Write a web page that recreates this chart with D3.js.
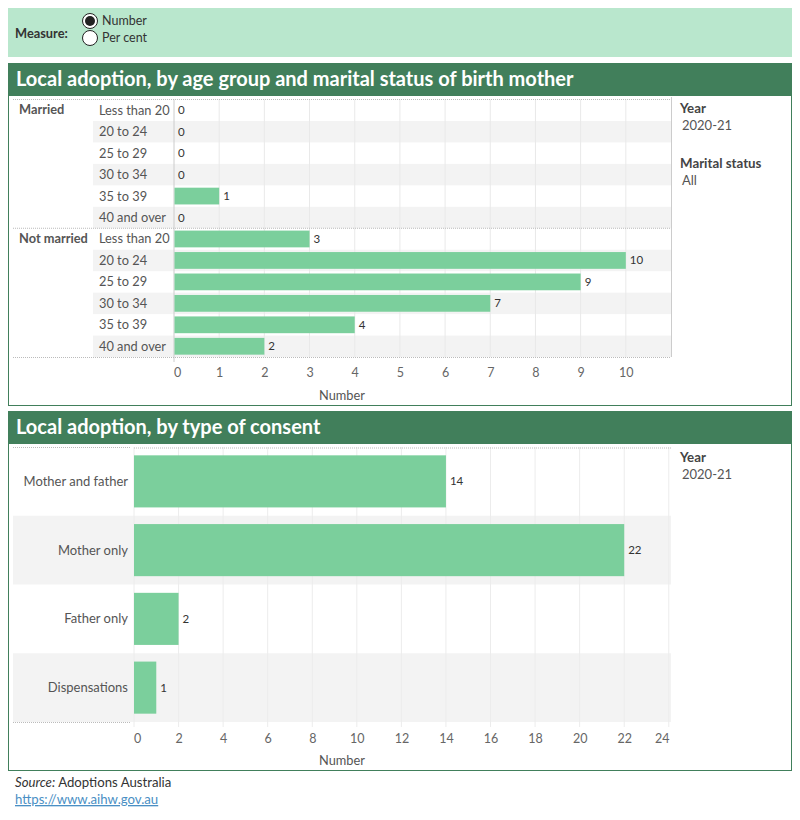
<!DOCTYPE html>
<html>
<head>
<meta charset="utf-8">
<script src="https://cdn.jsdelivr.net/npm/d3@7"></script>
<style>
  body { margin: 0; background: #fff; }
  svg { display: block; font-family: "Lato", "Open Sans", sans-serif; }
</style>
</head>
<body>
<svg id="chart" width="800" height="820"></svg>
<script>
// data
const maritalGroups = ["Married", "Not married"];
const ageGroups = ["Less than 20", "20 to 24", "25 to 29", "30 to 34", "35 to 39", "40 and over"];
const marriedValues = [0, 0, 0, 0, 1, 0];
const notMarriedValues = [3, 10, 9, 7, 4, 2];
const ageTicks = [0, 1, 2, 3, 4, 5, 6, 7, 8, 9, 10];

const consentTypes = ["Mother and father", "Mother only", "Father only", "Dispensations"];
const consentValues = [14, 22, 2, 1];
const consentTicks = [0, 2, 4, 6, 8, 10, 12, 14, 16, 18, 20, 22, 24];

const darkGreen = "#417f5b";
const barColor = "#7bcf9c";
const stripe = "#f3f3f3";

const svg = d3.select("#chart");

// filter strip
svg.append("rect").attr("x", 8).attr("y", 8).attr("width", 784).attr("height", 49).attr("fill", "#b9e7cd");
svg.append("text").attr("x", 15).attr("y", 38).attr("font-size", 12.8).attr("font-weight", "bold")
  .attr("fill", "#333").text("Measure:");
[["Number", true], ["Per cent", false]].forEach(([t, on], i) => {
  const cy = 21 + i * 17;
  svg.append("circle").attr("cx", 90).attr("cy", cy).attr("r", 7.5).attr("fill", "#fff").attr("stroke", "#222");
  if (on) svg.append("circle").attr("cx", 90).attr("cy", cy).attr("r", 5).attr("fill", "#222");
  svg.append("text").attr("x", 102).attr("y", cy + 4).attr("font-size", 12.5).attr("fill", "#333").text(t);
});

function panel(y0, y1, title) {
  svg.append("rect").attr("x", 8.5).attr("y", y0 + 0.5).attr("width", 783).attr("height", y1 - y0)
    .attr("fill", "#fff").attr("stroke", darkGreen);
  svg.append("rect").attr("x", 8).attr("y", y0).attr("width", 784).attr("height", 33).attr("fill", darkGreen);
  svg.append("text").attr("x", 16).attr("y", y0 + 23).attr("font-size", 20).attr("font-weight", "bold")
    .attr("fill", "#fff").text(title);
}

function dotted(x1, x2, y) {
  svg.append("line").attr("x1", x1).attr("x2", x2).attr("y1", y).attr("y2", y)
    .attr("stroke", "#bbb").attr("stroke-dasharray", "1,1");
}

function sideNote(x, y, head, val) {
  svg.append("text").attr("x", x).attr("y", y).attr("font-size", 13.3).attr("font-weight", "bold")
    .attr("fill", "#444").text(head);
  svg.append("text").attr("x", x + 2).attr("y", y + 17).attr("font-size", 13).attr("fill", "#555").text(val);
}

// ---------- chart 1 ----------
panel(63, 405, "Local adoption, by age group and marital status of birth mother");

const rows1 = [];
maritalGroups.forEach((g, gi) => {
  const vals = gi === 0 ? marriedValues : notMarriedValues;
  ageGroups.forEach((a, ai) => rows1.push({ group: g, age: a, idx: ai, value: vals[ai], key: g + "|" + a }));
});

const x1 = d3.scaleLinear().domain([0, 11]).range([174, 671]);
const y1 = d3.scaleBand().domain(rows1.map(d => d.key)).range([99.5, 357]);
const bar1 = d3.scaleBand().domain([0]).range([0, y1.bandwidth()]).paddingInner(0).paddingOuter(0.14);

const g1 = svg.append("g");
g1.selectAll("rect.stripe").data(rows1.filter(d => d.idx % 2 === 1)).join("rect")
  .attr("class", "stripe").attr("x", 93).attr("width", x1.range()[1] - 93)
  .attr("y", d => y1(d.key)).attr("height", y1.bandwidth()).attr("fill", stripe);

g1.append("g").selectAll("line").data(ageTicks.slice(1)).join("line")
  .attr("x1", d => x1(d)).attr("x2", d => x1(d)).attr("y1", 99.5).attr("y2", 357)
  .attr("stroke", "#e9e9e9");
g1.append("line").attr("x1", x1(0)).attr("x2", x1(0)).attr("y1", 99.5).attr("y2", 362).attr("stroke", "#ccc");
g1.append("line").attr("x1", 671.5).attr("x2", 671.5).attr("y1", 97).attr("y2", 357).attr("stroke", "#ccc");

g1.selectAll("rect.bar").data(rows1.filter(d => d.value > 0)).join("rect")
  .attr("class", "bar").attr("x", x1(0) + 0.5).attr("width", d => x1(d.value) - x1(0) - 0.5)
  .attr("y", d => y1(d.key) + bar1(0)).attr("height", bar1.bandwidth()).attr("fill", barColor);

g1.selectAll("text.val").data(rows1).join("text")
  .attr("class", "val").attr("x", d => x1(d.value) + 4).attr("y", d => y1(d.key) + y1.bandwidth() / 2 + 4)
  .attr("font-size", 11.5).attr("fill", "#333").text(d => d.value);

g1.selectAll("text.age").data(rows1).join("text")
  .attr("class", "age").attr("x", 99).attr("y", d => y1(d.key) + y1.bandwidth() / 2 + 4.5)
  .attr("font-size", 12.8).attr("fill", "#555").text(d => d.age);

g1.selectAll("text.grp").data(maritalGroups).join("text")
  .attr("class", "grp").attr("x", 19).attr("y", d => y1(d + "|" + ageGroups[0]) + y1.bandwidth() / 2 + 4)
  .attr("font-size", 12.8).attr("font-weight", "bold").attr("fill", "#555").text(d => d);

dotted(13, 671, 99.5);
dotted(13, 671, y1(maritalGroups[1] + "|" + ageGroups[0]));
dotted(13, 671, 357.5);

const ax1 = g1.append("g").attr("transform", "translate(0,357)")
  .call(d3.axisBottom(x1).tickValues(ageTicks).tickSize(0).tickPadding(11));
ax1.select(".domain").remove();
ax1.selectAll("text").attr("font-size", 12.5).attr("fill", "#666").attr("font-family", "Lato, sans-serif");
ax1.selectAll(".tick").filter(d => d === 0).select("text").attr("dx", 3);
svg.append("text").attr("x", 342).attr("y", 400).attr("text-anchor", "middle").attr("font-size", 12.8)
  .attr("fill", "#555").text("Number");

sideNote(680, 113, "Year", "2020-21");
sideNote(680, 168, "Marital status", "All");

// ---------- chart 2 ----------
panel(411, 770, "Local adoption, by type of consent");

const rows2 = consentTypes.map((c, i) => ({ type: c, value: consentValues[i], idx: i }));
const x2 = d3.scaleLinear().domain([0, 24.1]).range([134, 671]);
const y2 = d3.scaleBand().domain(consentTypes).range([447, 722]);
const bar2 = d3.scaleBand().domain([0]).range([0, y2.bandwidth()]).paddingOuter(0.16);

const g2 = svg.append("g");
g2.selectAll("rect.stripe").data(rows2.filter(d => d.idx % 2 === 1)).join("rect")
  .attr("class", "stripe").attr("x", 13).attr("width", x2.range()[1] - 13)
  .attr("y", d => y2(d.type)).attr("height", y2.bandwidth()).attr("fill", stripe);

g2.append("g").selectAll("line").data(consentTicks).join("line")
  .attr("x1", d => x2(d)).attr("x2", d => x2(d)).attr("y1", 447).attr("y2", 727)
  .attr("stroke", "#ececec");

g2.selectAll("rect.bar").data(rows2).join("rect")
  .attr("class", "bar").attr("x", x2(0)).attr("width", d => x2(d.value) - x2(0))
  .attr("y", d => y2(d.type) + bar2(0)).attr("height", bar2.bandwidth()).attr("fill", barColor);

g2.selectAll("text.val").data(rows2).join("text")
  .attr("class", "val").attr("x", d => x2(d.value) + 4).attr("y", d => y2(d.type) + y2.bandwidth() / 2 + 4)
  .attr("font-size", 11.5).attr("fill", "#333").text(d => d.value);

g2.selectAll("text.cat").data(rows2).join("text")
  .attr("class", "cat").attr("x", 128).attr("y", d => y2(d.type) + y2.bandwidth() / 2 + 4.5)
  .attr("text-anchor", "end").attr("font-size", 13).attr("fill", "#555").text(d => d.type);

dotted(13, 130, 447.5);
dotted(134, 671, 448);
dotted(13, 130, 722.5);

const ax2 = g2.append("g").attr("transform", "translate(0,722)")
  .call(d3.axisBottom(x2).tickValues(consentTicks).tickSize(0).tickPadding(12));
ax2.select(".domain").remove();
ax2.selectAll("text").attr("font-size", 12.5).attr("fill", "#666").attr("font-family", "Lato, sans-serif");
ax2.selectAll(".tick").filter(d => d === 0).select("text").attr("dx", 3);
ax2.selectAll(".tick").filter(d => d === 24).select("text").attr("dx", -7);
svg.append("text").attr("x", 342).attr("y", 765).attr("text-anchor", "middle").attr("font-size", 12.8)
  .attr("fill", "#555").text("Number");

sideNote(680, 462, "Year", "2020-21");

// source
const src = svg.append("text").attr("x", 15).attr("y", 787).attr("font-size", 13.2).attr("fill", "#333");
src.append("tspan").attr("font-style", "italic").text("Source:");
src.append("tspan").text(" Adoptions Australia");
svg.append("text").attr("x", 15).attr("y", 804).attr("font-size", 13.2).attr("fill", "#4a8fc4")
  .attr("text-decoration", "underline").text("https://www.aihw.gov.au");
</script>
</body>
</html>
